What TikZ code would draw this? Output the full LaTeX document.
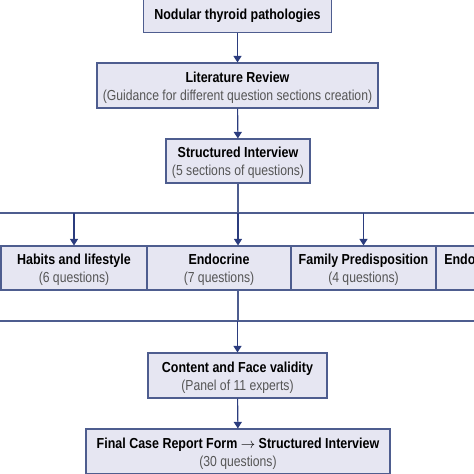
\documentclass[tikz,border=0pt]{standalone}
\usepackage{fontspec}
\setmainfont{Liberation Sans}[FakeStretch=0.84,BoldFeatures={FakeStretch=0.86}]
\usetikzlibrary{arrows.meta}
\definecolor{boxfill}{HTML}{E6E6F2}
\definecolor{boxline}{HTML}{4E5D8F}
\definecolor{arrowblue}{HTML}{2B3C7E}
\definecolor{subgray}{HTML}{555555}
\tikzstyle{box}=[rectangle,fill=boxfill,draw=boxline,line width=1.1pt,inner sep=0pt,align=center,anchor=center,font=\fontsize{14.5}{18}\selectfont]
\tikzstyle{arr}=[draw=arrowblue,line width=1.1pt,-{Triangle[width=8pt,length=6.5pt]}]
\tikzstyle{bus}=[draw=boxline,line width=1.1pt]
\newcommand{\stage}[2]{\raisebox{-2pt}[\height][\depth]{\begin{tabular}{@{}c@{}}\textbf{#1}\\\textcolor{subgray}{#2}\end{tabular}}}

\begin{document}
\begin{tikzpicture}[x=1pt,y=-1pt]
	\useasboundingbox (0,0) rectangle (474,474);
	\clip (0,0) rectangle (474,474);

	\node[box, minimum width=188pt, minimum height=33pt](thyroid) at (237.5,16){\raisebox{-1.5pt}{\textbf{Nodular thyroid pathologies}}};
	\node[box, minimum width=281pt, minimum height=45pt](review) at (237.5,85.5){\stage{Literature Review}{(Guidance for different question sections creation)}};
	\node[box, minimum width=144pt, minimum height=44pt](interview) at (238,161){\stage{Structured Interview}{(5 sections of questions)}};

	% the five sections
	\node[box, minimum width=146pt, minimum height=44pt](habits) at (74,268){\stage{Habits and lifestyle}{(6 questions)}};
	\node[box, minimum width=144pt, minimum height=44pt](endocrine) at (219,268){\stage{Endocrine}{(7 questions)}};
	\node[box, minimum width=145pt, minimum height=44pt](family) at (363.5,268){\stage{Family Predisposition}{(4 questions)}};
	\node[box, minimum width=144pt, minimum height=44pt](disrupt) at (508,268){\stage{Endocrine Disruptors}{\phantom{(4 questions)}}};

	\node[box, minimum width=179pt, minimum height=45pt](validity) at (237.5,375.5){\stage{Content and Face validity}{(Panel of 11 experts)}};
	\node[box, minimum width=304pt, minimum height=45pt](final) at (238,451.5){\stage{Final Case Report Form $\rightarrow$ Structured Interview}{(30 questions)}};

	\coordinate (topleft) at (0,213);
	\coordinate (topright) at (474,213);
	\coordinate (lowleft) at (0,321);
	\coordinate (lowright) at (474,321);

	\draw[arr] (thyroid) -- (review);
	\draw[arr] (review) -- (interview);
	\draw[bus] (topleft) -- (topright);
	\draw[bus] (interview.south) -- (interview.south |- topleft);
	\draw[arr] (habits.north |- topleft) -- (habits.north);
	\draw[arr] (interview.south |- topleft) -- (interview.south |- endocrine.north);
	\draw[arr] (family.north |- topleft) -- (family.north);
	\draw[bus] (lowleft) -- (lowright);
	\draw[bus] (interview.south |- endocrine.south) -- (interview.south |- lowleft);
	\draw[arr] (validity.north |- lowleft) -- (validity.north);
	\draw[arr] (validity) -- (final);
\end{tikzpicture}
\end{document}
